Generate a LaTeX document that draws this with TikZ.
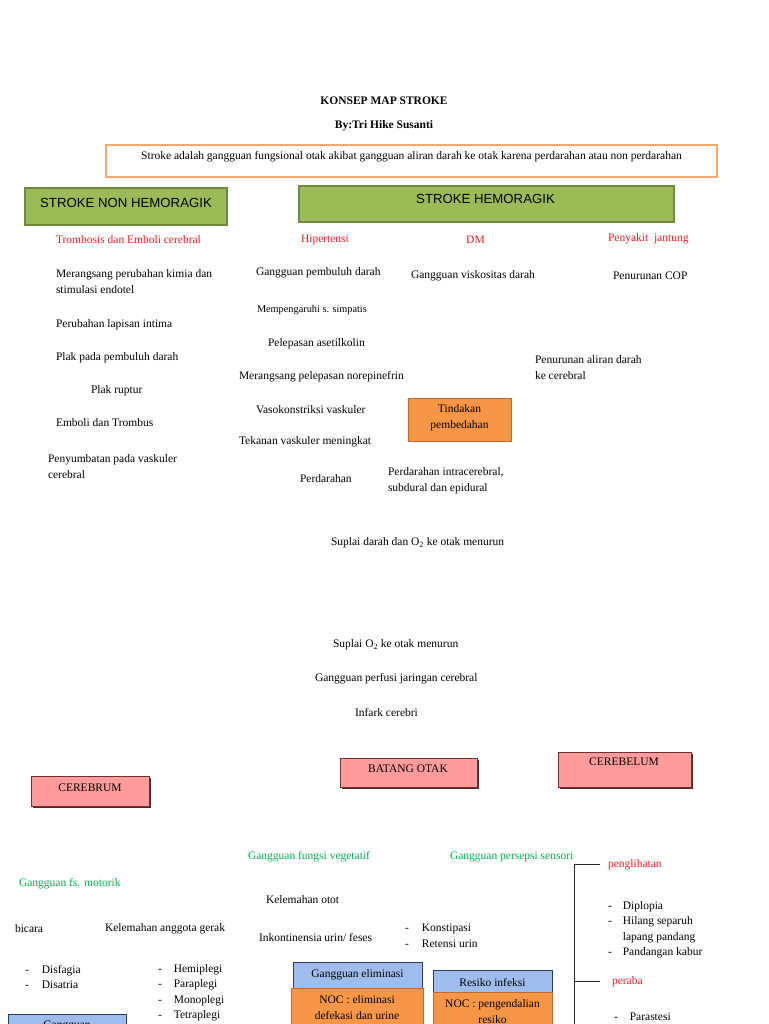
\documentclass[tikz,border=0pt]{standalone}
\usepackage{fontspec}
\setmainfont{Liberation Serif}
\newfontfamily\hdsans{Liberation Sans}
\definecolor{redtxt}{RGB}{235,30,40}
\definecolor{greentxt}{RGB}{0,176,80}
\definecolor{gfill}{RGB}{155,187,89}
\definecolor{gline}{RGB}{113,137,63}
\definecolor{ofill}{RGB}{247,150,70}
\definecolor{oline}{RGB}{190,105,45}
\definecolor{obord}{RGB}{244,170,110}
\definecolor{pfill}{RGB}{255,155,155}
\definecolor{pline}{RGB}{110,50,50}
\definecolor{bfill}{RGB}{158,188,236}
\definecolor{bline}{RGB}{40,60,100}
\tikzset{
  txt/.style={inner sep=0pt, outer sep=0pt, anchor=west, align=left, font=\fontsize{11.5}{16}\selectfont},
  ctxt/.style={inner sep=0pt, outer sep=0pt, anchor=center, align=center, font=\fontsize{11.5}{16}\selectfont},
  redt/.style={txt, text=redtxt},
  greent/.style={txt, text=greentxt},
  boldt/.style={ctxt, font=\fontsize{11.5}{14}\bfseries\selectfont},
  smallt/.style={txt, font=\fontsize{10.3}{12}\selectfont},
  greenbox/.style={draw=gline, line width=1.2pt, fill=gfill},
  orangebox/.style={draw=oline, line width=0.8pt, fill=ofill},
  pinkbox/.style={draw=pline, line width=0.6pt, fill=pfill},
  bluebox/.style={draw=bline, line width=0.6pt, fill=bfill},
  shadowbox/.style={fill=pline!80!black, draw=none},
  bracket/.style={draw=black!85, line width=0.9pt},
  lst/.style={txt, font=\fontsize{11.5}{15.5}\selectfont},
  headt/.style={ctxt, font=\hdsans\fontsize{13.2}{14}\selectfont},
}
\begin{document}
\begin{tikzpicture}[x=1pt,y=-1pt]
\useasboundingbox (0,0) rectangle (768,1024);
\clip (0,0) rectangle (768,1024);
\fill[white] (0,0) rectangle (768,1024);

% title
\node[boldt] (title) at (384,101) {KONSEP MAP STROKE};
\node[boldt] (by) at (384,126) {By:Tri Hike Susanti};

% definition box
\draw[draw=obord, line width=1.2pt] (106,145) rectangle (717,177);
\node[ctxt] (def) at (411.5,157) {Stroke adalah gangguan fungsional otak akibat gangguan aliran darah ke otak karena perdarahan atau non perdarahan};

% green headers
\draw[greenbox] (25,188) rectangle (227,225);
\node[headt] (snh) at (126,202.5) {STROKE NON HEMORAGIK};
\draw[greenbox] (299,186) rectangle (674,222);
\node[headt] (sh) at (485.5,198.5) {STROKE HEMORAGIK};

% red causes
\node[redt] (tromb) at (56,240) {Trombosis dan Emboli cerebral};
\node[redt] (hip) at (301,240) {Hipertensi};
\node[ctxt, text=redtxt] (dm) at (475.5,240) {DM};
\node[redt] (pj) at (608,239) {Penyakit\ \ jantung};

% left column
\node[txt] (mpk) at (56,281.5) {Merangsang perubahan kimia dan\\stimulasi endotel};
\node[txt] (pli) at (56,325) {Perubahan lapisan intima};
\node[txt] (ppd) at (56,358) {Plak pada pembuluh darah};
\node[txt] (pr) at (91,391) {Plak ruptur};
\node[txt] (edt) at (56,423) {Emboli dan Trombus};
\begin{scope}
\clip (0,440) rectangle (250,478);
\node[txt] (pvc) at (48,467) {Penyumbatan pada vaskuler\\cerebral};
\end{scope}

% middle column
\node[txt] (gpd) at (256,273) {Gangguan pembuluh darah};
\node[smallt] (mps) at (257,310) {Mempengaruhi s. simpatis};
\node[txt] (pa) at (268,344) {Pelepasan asetilkolin};
\node[txt] (mpn) at (239,377) {Merangsang pelepasan norepinefrin};
\node[txt] (vv) at (256,410) {Vasokonstriksi vaskuler};
\node[txt] (tvm) at (239,442) {Tekanan vaskuler meningkat};
\node[txt] (perd) at (300,479) {Perdarahan};

% right columns
\node[txt] (gvd) at (411,276) {Gangguan viskositas darah};
\node[txt] (cop) at (613,276) {Penurunan COP};
\node[txt] (pad) at (535,368) {Penurunan aliran darah\\ke cerebral};
\draw[orangebox] (408,398) rectangle (511,441);
\node[ctxt] (tp) at (459.5,418) {Tindakan\\pembedahan};
\node[txt] (pic) at (388,481) {Perdarahan intracerebral,\\subdural dan epidural};

% central chain
\node[txt] (sup1) at (331,543) {Suplai darah dan O\textsubscript{2} ke otak menurun};
\node[txt] (sup2) at (333,645) {Suplai O\textsubscript{2} ke otak menurun};
\node[txt] (gpjc) at (315,679) {Gangguan perfusi jaringan cerebral};
\node[txt] (ic) at (355,712) {Infark cerebri};

% pink boxes
\fill[shadowbox] (342,760) rectangle (479,789);
\draw[pinkbox] (340,758) rectangle (477,787);
\node[ctxt] (bo) at (408,769) {BATANG OTAK};
\fill[shadowbox] (560,754) rectangle (693,789);
\draw[pinkbox] (558,752) rectangle (691,787);
\node[ctxt] (cbl) at (624,762) {CEREBELUM};
\fill[shadowbox] (33,778) rectangle (151,808);
\draw[pinkbox] (31,776) rectangle (149,806);
\node[ctxt] (cbr) at (90,788) {CEREBRUM};

% green sub-headings
\node[greent] (gfv) at (248,857) {Gangguan fungsi vegetatif};
\node[greent] (gps) at (450,857) {Gangguan persepsi sensori};
\node[greent] (gfm) at (19,884) {Gangguan fs. motorik};

% sensori bracket
\node[redt] (pgl) at (608,865) {penglihatan};
\node[redt] (prb) at (612,982) {peraba};
\coordinate (bt) at (574,864);
\coordinate (bm) at (574,981);
\coordinate (bb) at (574,1030);
\coordinate (bte) at (600,864);
\coordinate (bme) at (600,981);
\draw[bracket] (bte) -- (bt) -- (bb);
\draw[bracket] (bm) -- (bme);

\node[lst] (vis) at (608,929.5) {\begin{tabular}{@{}l@{\hspace{11pt}}l@{}}-&Diplopia\\-&Hilang separuh\\&lapang pandang\\-&Pandangan kabur\end{tabular}};
\node[lst] (par) at (614,1017) {\begin{tabular}{@{}l@{\hspace{12pt}}l@{}}-&Parastesi\end{tabular}};

% motorik
\node[txt] (ko) at (266,900) {Kelemahan otot};
\node[txt] (bic) at (15,929) {bicara};
\node[txt] (kag) at (105,929) {Kelemahan anggota gerak};
\node[txt] (inko) at (259,937) {Inkontinensia urin/ feses};
\node[lst] (kons) at (405,936.5) {\begin{tabular}{@{}l@{\hspace{13pt}}l@{}}-&Konstipasi\\-&Retensi urin\end{tabular}};
\node[lst] (dis) at (25,978) {\begin{tabular}{@{}l@{\hspace{13pt}}l@{}}-&Disfagia\\-&Disatria\end{tabular}};
\node[lst] (hemi) at (158,992.5) {\begin{tabular}{@{}l@{\hspace{12pt}}l@{}}-&Hemiplegi\\-&Paraplegi\\-&Monoplegi\\-&Tetraplegi\end{tabular}};

% bottom boxes
\draw[bluebox] (293,962) rectangle (422,988);
\node[ctxt] (ge) at (357.5,975) {Gangguan eliminasi};
\draw[orangebox] (291,988) rectangle (423,1030);
\node[ctxt] (noc1) at (357,1008) {NOC : eliminasi\\defekasi dan urine};
\draw[bluebox] (433,970) rectangle (552,992);
\node[ctxt] (ri) at (492.5,982) {Resiko infeksi};
\draw[orangebox] (433,992) rectangle (552,1030);
\node[ctxt] (noc2) at (492.5,1011.5) {NOC : pengendalian\\resiko};
\draw[bluebox] (8,1014) rectangle (126,1040);
\node[ctxt] (gbl) at (67,1026) {Gangguan};
\end{tikzpicture}
\end{document}
